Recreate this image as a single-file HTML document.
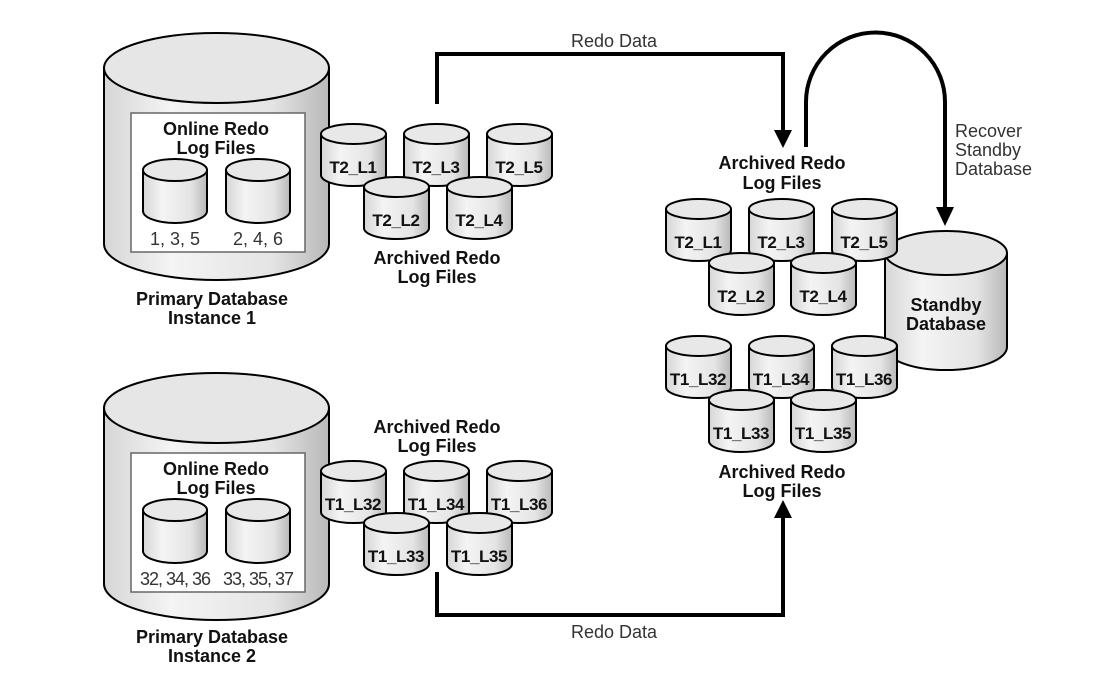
<!DOCTYPE html>
<html><head><meta charset="utf-8"><style>
body{margin:0;background:#fff}
svg{display:block}
text{font-family:"Liberation Sans",sans-serif}
.b{font-weight:bold;font-size:18px;fill:#111;text-anchor:middle}
.c{font-weight:bold;font-size:17px;fill:#111;text-anchor:middle;letter-spacing:-0.4px}
.n{font-size:18px;fill:#333;text-anchor:middle}
.g{font-size:18px;fill:#333}
</style></head><body>
<svg width="1108" height="693" viewBox="0 0 1108 693" xmlns="http://www.w3.org/2000/svg">
<defs>
<linearGradient id="gr" x1="0" x2="1" y1="0" y2="0">
<stop offset="0" stop-color="#d6d6d6"/><stop offset="0.3" stop-color="#f4f4f4"/><stop offset="0.75" stop-color="#e4e4e4"/><stop offset="1" stop-color="#b8b8b8"/>
</linearGradient>
<g id="sc">
<path d="M1,11 V52 A32.5,11 0 0 0 66,52 V11 Z" fill="url(#gr)" stroke="#000" stroke-width="2"/>
<ellipse cx="33.5" cy="11" rx="32.5" ry="10" fill="#e8e8e8" stroke="#000" stroke-width="2"/>
</g>
<g id="ic">
<path d="M1,12 V53 A32,12 0 0 0 65,53 V12 Z" fill="url(#gr)" stroke="#000" stroke-width="2"/>
<ellipse cx="33" cy="12" rx="32" ry="11" fill="#e8e8e8" stroke="#000" stroke-width="2"/>
</g>
<g id="big">
<path d="M0,36 V212 A112.5,36 0 0 0 225,212 V36 Z" fill="url(#gr)" stroke="#000" stroke-width="2"/>
<ellipse cx="112.5" cy="36" rx="112.5" ry="35" fill="#e6e6e6" stroke="#000" stroke-width="2"/>
<rect x="27" y="81" width="174" height="139" fill="#fff" stroke="#666" stroke-width="1.5"/>
</g>
</defs>

<!-- Instance 1 -->
<use href="#big" x="104" y="32"/>
<text class="b" x="216" y="135">Online Redo</text>
<text class="b" x="216" y="154">Log Files</text>
<use href="#ic" x="142" y="158"/>
<use href="#ic" x="225" y="158"/>
<text class="n" x="175" y="245">1, 3, 5</text>
<text class="n" x="258" y="245">2, 4, 6</text>
<text class="b" x="212" y="305">Primary Database</text>
<text class="b" x="212" y="324">Instance 1</text>

<use href="#sc" x="320" y="123"/><text class="c" x="353" y="173">T2_L1</text>
<use href="#sc" x="403" y="123"/><text class="c" x="436" y="173">T2_L3</text>
<use href="#sc" x="486" y="123"/><text class="c" x="519" y="173">T2_L5</text>
<use href="#sc" x="363" y="176"/><text class="c" x="396" y="226">T2_L2</text>
<use href="#sc" x="446" y="176"/><text class="c" x="479" y="226">T2_L4</text>
<text class="b" x="437" y="264">Archived Redo</text>
<text class="b" x="437" y="283">Log Files</text>

<!-- Instance 2 -->
<use href="#big" x="104" y="372"/>
<text class="b" x="216" y="475">Online Redo</text>
<text class="b" x="216" y="494">Log Files</text>
<use href="#ic" x="142" y="498"/>
<use href="#ic" x="225" y="498"/>
<text class="n" x="175" y="585" style="letter-spacing:-1px">32, 34, 36</text>
<text class="n" x="258" y="585" style="letter-spacing:-1px">33, 35, 37</text>
<text class="b" x="212" y="643">Primary Database</text>
<text class="b" x="212" y="662">Instance 2</text>

<text class="b" x="437" y="433">Archived Redo</text>
<text class="b" x="437" y="452">Log Files</text>
<use href="#sc" x="320" y="460"/><text class="c" x="353" y="510">T1_L32</text>
<use href="#sc" x="403" y="460"/><text class="c" x="436" y="510">T1_L34</text>
<use href="#sc" x="486" y="460"/><text class="c" x="519" y="510">T1_L36</text>
<use href="#sc" x="363" y="512"/><text class="c" x="396" y="562">T1_L33</text>
<use href="#sc" x="446" y="512"/><text class="c" x="479" y="562">T1_L35</text>

<!-- Standby -->
<path d="M885,253 V347 A61,23 0 0 0 1007,347 V253 Z" fill="url(#gr)" stroke="#000" stroke-width="2"/>
<ellipse cx="946" cy="253" rx="61" ry="22" fill="#e6e6e6" stroke="#000" stroke-width="2"/>
<text class="b" x="946" y="311">Standby</text>
<text class="b" x="946" y="330">Database</text>

<text class="b" x="782" y="169">Archived Redo</text>
<text class="b" x="782" y="189">Log Files</text>
<use href="#sc" x="665" y="198"/><text class="c" x="698" y="248">T2_L1</text>
<use href="#sc" x="748" y="198"/><text class="c" x="781" y="248">T2_L3</text>
<use href="#sc" x="831" y="198"/><text class="c" x="864" y="248">T2_L5</text>
<use href="#sc" x="708" y="252"/><text class="c" x="741" y="302">T2_L2</text>
<use href="#sc" x="790" y="252"/><text class="c" x="823" y="302">T2_L4</text>

<use href="#sc" x="665" y="335"/><text class="c" x="698" y="385">T1_L32</text>
<use href="#sc" x="748" y="335"/><text class="c" x="781" y="385">T1_L34</text>
<use href="#sc" x="831" y="335"/><text class="c" x="864" y="385">T1_L36</text>
<use href="#sc" x="708" y="389"/><text class="c" x="741" y="439">T1_L33</text>
<use href="#sc" x="790" y="389"/><text class="c" x="823" y="439">T1_L35</text>
<text class="b" x="782" y="478">Archived Redo</text>
<text class="b" x="782" y="497">Log Files</text>

<!-- Arrows -->
<g fill="none" stroke="#000" stroke-width="4">
<path d="M437,104 V54 H783 V132"/>
<path d="M806,147 V102 A69.5,69.5 0 0 1 945,102 V208"/>
<path d="M437,572 V615 H783 V517"/>
</g>
<polygon points="774,130 792,130 783,148" fill="#000"/>
<polygon points="936,207 954,207 945,226" fill="#000"/>
<polygon points="774,518 792,518 783,500" fill="#000"/>
<text class="g" x="614" y="47" text-anchor="middle">Redo Data</text>
<text class="g" x="614" y="638" text-anchor="middle">Redo Data</text>
<text class="g" x="955" y="137">Recover</text>
<text class="g" x="955" y="156">Standby</text>
<text class="g" x="955" y="175">Database</text>
</svg>
</body></html>
